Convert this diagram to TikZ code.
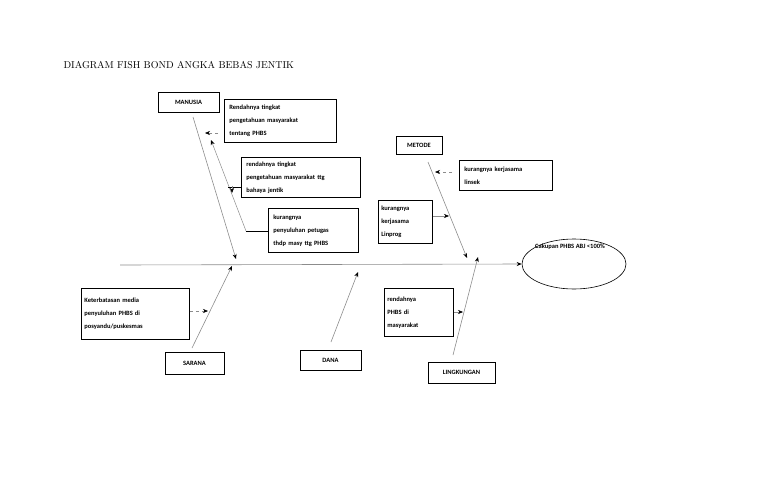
\documentclass[tikz,border=0pt]{standalone}
\usepackage{fontspec}
\setsansfont{Carlito}
\usetikzlibrary{arrows.meta,shapes.geometric}
\begin{document}
\begin{tikzpicture}[x=1pt,y=-1pt,
  lbl/.style={draw,line width=0.8pt,anchor=north west,align=left,inner sep=0pt,font=\sffamily\bfseries\fontsize{6.5}{13}\selectfont},
  head/.style={draw,line width=0.8pt,font=\sffamily\bfseries\fontsize{6.5}{8}\selectfont,inner sep=0pt},
  bone/.style={draw=black!45,line width=0.6pt,-{Stealth[length=5pt,width=4pt,black]}},
  small/.style={draw=black!45,line width=0.5pt,-{Stealth[length=5pt,width=4pt,black]}}]
\useasboundingbox (0,0) rectangle (768,503);
\node[anchor=west,font=\fontsize{10}{12}\selectfont] (title) at (60,65) {DIAGRAM FISH BOND ANGKA BEBAS JENTIK};
\node[draw,ellipse,minimum width=104pt,minimum height=50pt,line width=0.6pt] (eff) at (574,264) {};
\node[font=\sffamily\bfseries\fontsize{6.5}{8}\selectfont] (efft) at (570,247) {Cakupan PHBS ABJ <100\%};
\coordinate (tail) at (120,265);
\draw[bone] (tail) -- (eff.west);
% MANUSIA
\node[head,minimum width=61pt,minimum height=20pt] (man) at (188.5,102) {MANUSIA};
\node[lbl,text width=112pt,minimum height=43pt] (m1) at (224,99) {\hspace*{5pt}Rendahnya tingkat\\\hspace*{5pt}pengetahuan masyarakat\\\hspace*{5pt}tentang PHBS};
\node[lbl,text width=119pt,minimum height=40pt] (m2) at (241,157) {\hspace*{5pt}rendahnya tingkat\\\hspace*{5pt}pengetahuan masyarakat ttg\\\hspace*{5pt}bahaya jentik};
\node[lbl,text width=90pt,minimum height=44pt] (m3) at (268,208) {\hspace*{5pt}kurangnya\\\hspace*{5pt}penyuluhan petugas\\\hspace*{5pt}thdp masy ttg PHBS};
\coordinate (manE) at (236,259);
\draw[bone] (193,117) -- (manE);
\coordinate (m1a) at (218,133); \coordinate (m1b) at (205,133);
\draw[small,dashed] (m1a) -- (m1b);
\coordinate (m3a) at (246,231); \coordinate (m3b) at (211,140);
\draw[line width=0.6pt] (m3.west |- m3a) -- (m3a);
\draw[small] (m3a) -- (m3b);
\coordinate (m2a) at (228,187); \coordinate (m2b) at (232,193);
\draw[line width=0.6pt] (m2a) -- (m2.west |- m2a);
\draw[small] (232,186) -- (m2b);
% METODE
\node[head,minimum width=46pt,minimum height=18pt] (met) at (419,145) {METODE};
\node[lbl,text width=93pt,minimum height=30pt] (t1) at (459,160) {\hspace*{5pt}kurangnya kerjasama\\\hspace*{5pt}linsek};
\node[lbl,text width=54pt,minimum height=43pt] (t2) at (378,200) {\hspace*{3pt}kurangnya\\\hspace*{3pt}kerjasama\\\hspace*{3pt}Linprog};
\draw[bone] (428,162) -- (467,258);
\draw[small,dashed] (452,172) -- (435,172);
\draw[small] (t2.east |- 0,216) -- (449,216);
% LINGKUNGAN
\node[head,minimum width=67pt,minimum height=21pt] (lin) at (461.5,372.5) {LINGKUNGAN};
\node[lbl,text width=69pt,minimum height=48pt] (l1) at (384,288) {\hspace*{3pt}rendahnya\\\hspace*{3pt}PHBS di\\\hspace*{3pt}masyarakat};
\draw[bone] (453,355) -- (478,257);
\draw[small] (l1.east |- 0,312) -- (463,312);
% SARANA
\node[head,minimum width=59pt,minimum height=22pt] (sar) at (194.5,363) {SARANA};
\node[lbl,text width=108pt,minimum height=51pt] (s1) at (81,288) {\hspace*{3pt}Keterbatasan media\\\hspace*{3pt}penyuluhan PHBS di\\\hspace*{3pt}posyandu/puskesmas};
\draw[bone] (192,348) -- (232,266);
\draw[small,dashed] (s1.east |- 0,311) -- (208,311);
% DANA
\node[head,minimum width=61pt,minimum height=20pt] (dan) at (330.5,360) {DANA};
\draw[bone] (331,342) -- (358,272);
\end{tikzpicture}
\end{document}
